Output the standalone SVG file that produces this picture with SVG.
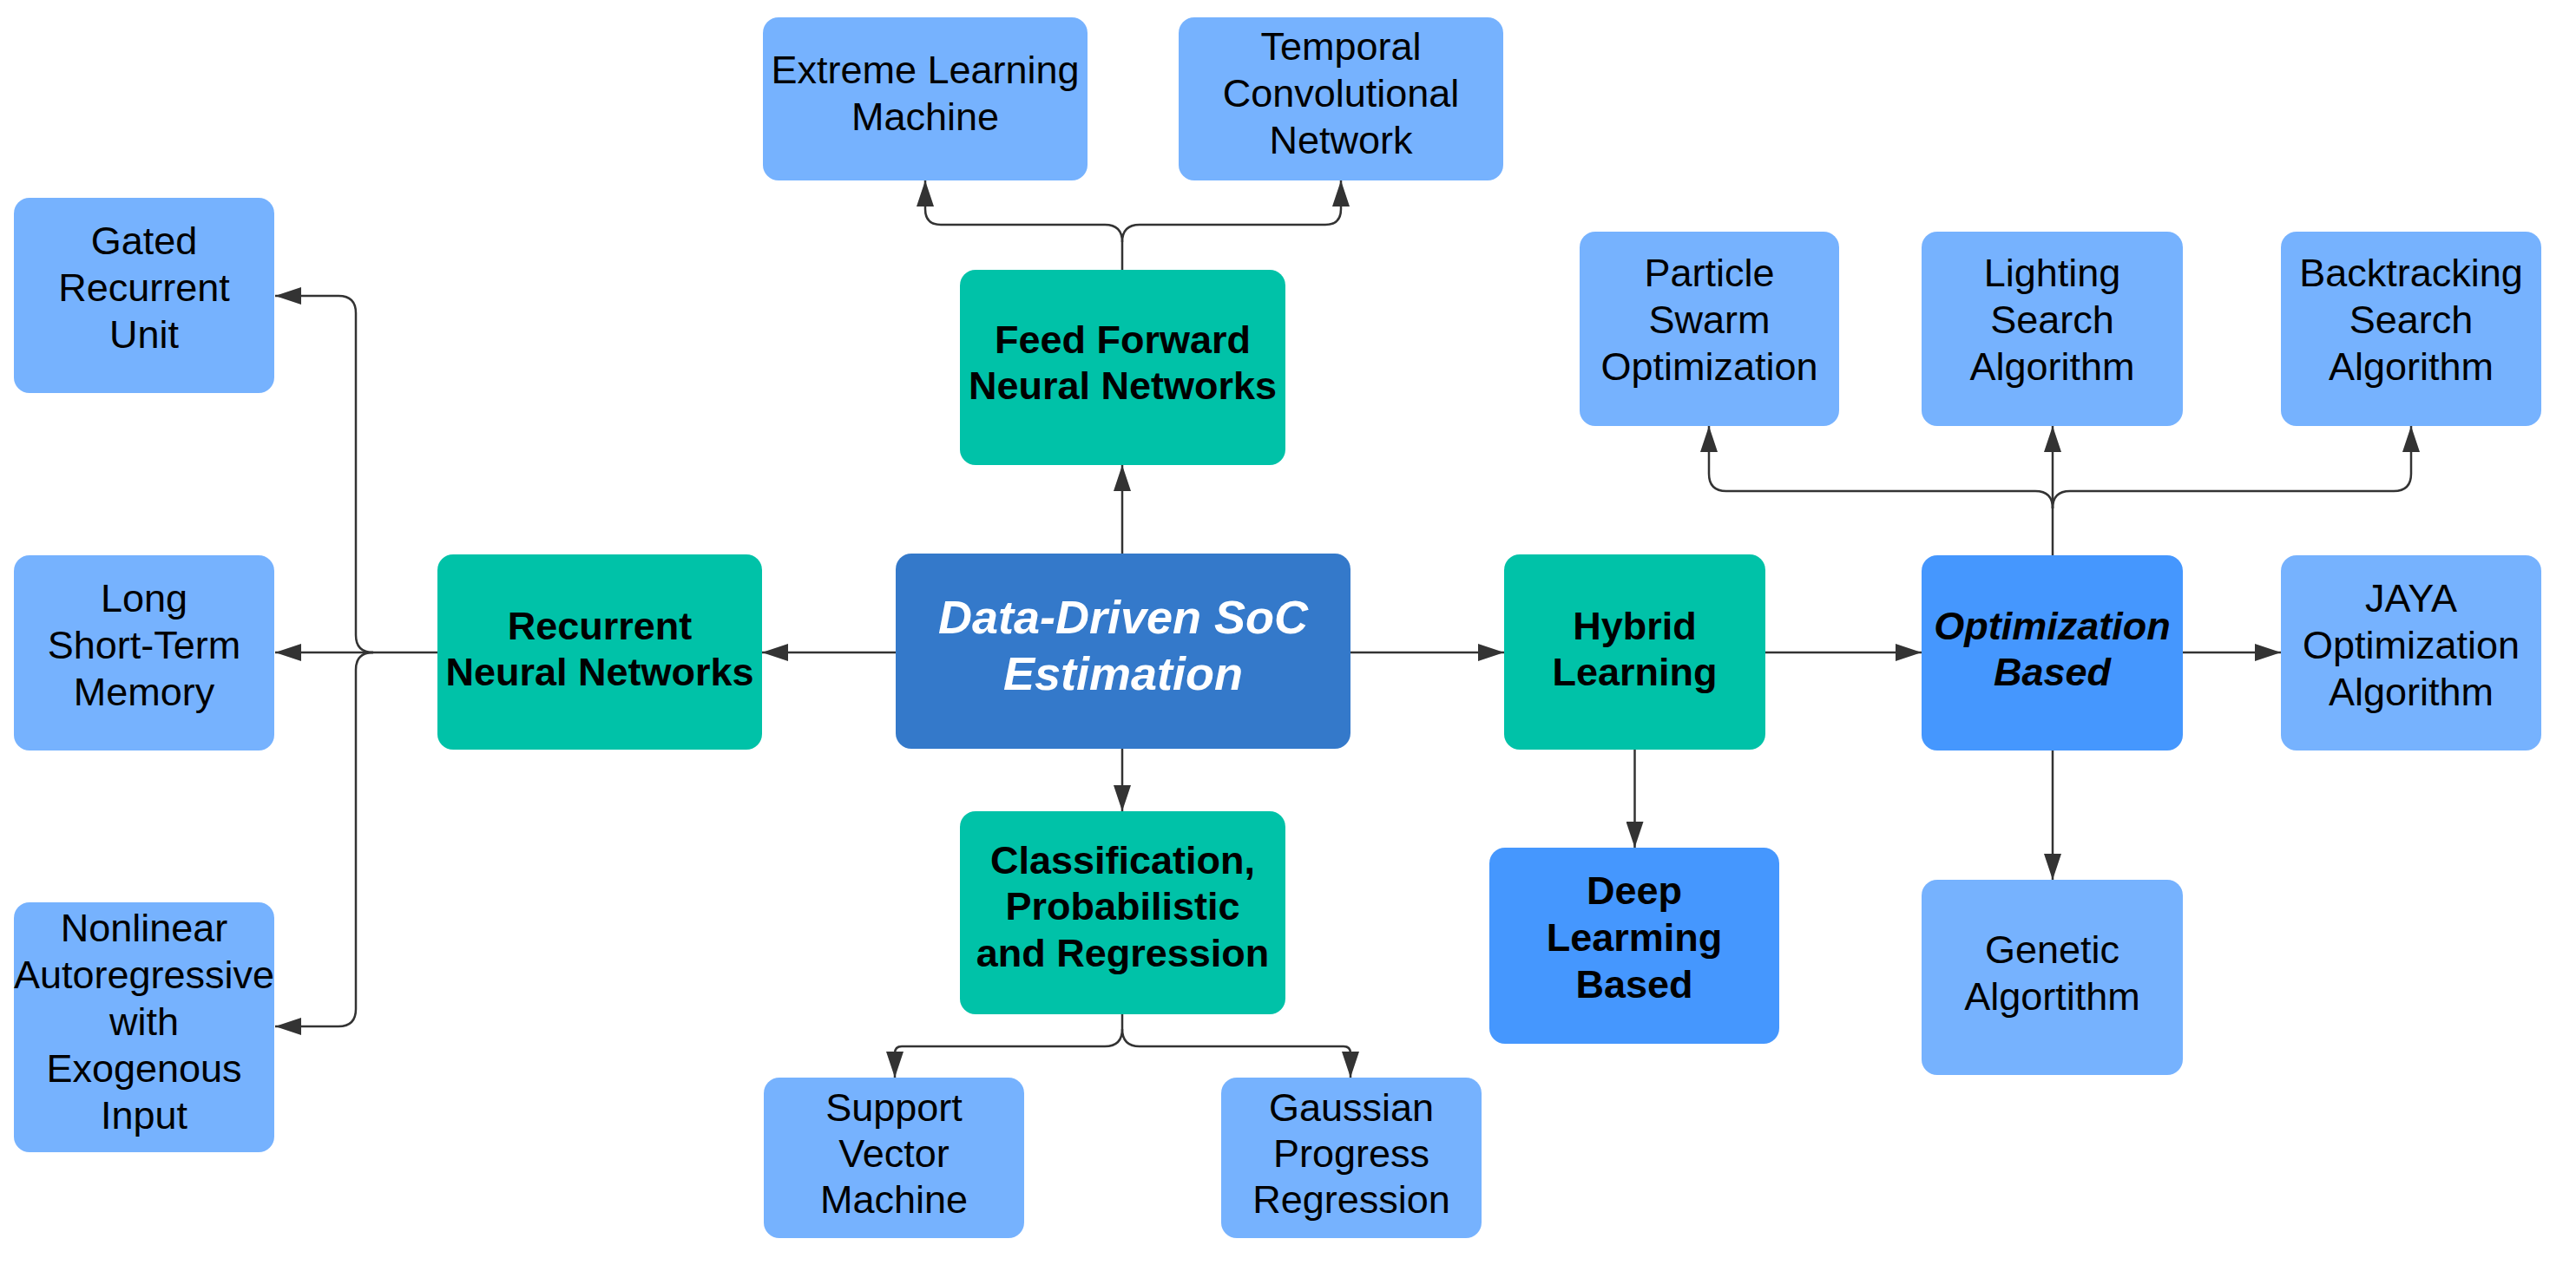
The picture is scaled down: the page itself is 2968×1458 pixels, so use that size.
<svg xmlns="http://www.w3.org/2000/svg" width="2968" height="1458" viewBox="0 0 2968 1458">
<defs>
<marker id="ah" viewBox="0 0 30 20" refX="30" refY="10" markerWidth="30" markerHeight="20" markerUnits="userSpaceOnUse" orient="auto">
<path d="M0,0 L30,10 L0,20 z" fill="#333333"/>
</marker>
</defs>
<style>
.lb{fill:#76B2FE}
.tl{fill:#00C2A8}
.mb{fill:#4597FE}
.db{fill:#3479CA}
text{font-family:"Liberation Sans",Arial,sans-serif;font-size:45px;fill:#000;text-anchor:middle}
.b{font-weight:bold}
.bi{font-weight:bold;font-style:italic}
.main{font-weight:bold;font-style:italic;font-size:54px;fill:#fff}
.c{fill:none;stroke:#333333;stroke-width:2.5}
.a{marker-end:url(#ah)}
</style>
<rect width="2968" height="1458" fill="#fff"/>
<g id="connectors">
<path class="c a" d="M1032,752 H878"/>
<path class="c a" d="M504,752 H317"/>
<path class="c a" d="M430,752 Q410,752 410,732 V361 Q410,341 390,341 H317"/>
<path class="c a" d="M430,752 Q410,752 410,772 V1163 Q410,1183 390,1183 H317"/>
<path class="c a" d="M1293,638 V536"/>
<path class="c a" d="M1293,311 V279 Q1293,259 1273,259 H1084 Q1066,259 1066,241 V208"/>
<path class="c a" d="M1293,279 Q1293,259 1313,259 H1527 Q1545,259 1545,241 V208"/>
<path class="c a" d="M1293,863 V935"/>
<path class="c a" d="M1293,1169 V1186 Q1293,1206 1273,1206 H1039 Q1031,1206 1031,1214 V1242"/>
<path class="c a" d="M1293,1186 Q1293,1206 1313,1206 H1548 Q1556,1206 1556,1214 V1242"/>
<path class="c a" d="M1556,752 H1733"/>
<path class="c a" d="M1883.5,864 V977"/>
<path class="c a" d="M2034,752 H2214"/>
<path class="c a" d="M2515,752 H2628"/>
<path class="c a" d="M2365,640 V491"/>
<path class="c a" d="M2365,586 Q2365,566 2345,566 H1989 Q1969,566 1969,546 V491"/>
<path class="c a" d="M2365,586 Q2365,566 2385,566 H2758 Q2778,566 2778,546 V491"/>
<path class="c a" d="M2365,865 V1014"/>
</g>
<g id="elm"><rect class="lb" x="879" y="20" width="374" height="188" rx="18"/><text x="1066" y="96">Extreme Learning</text><text x="1066" y="150">Machine</text></g>
<g id="tcn"><rect class="lb" x="1358" y="20" width="374" height="188" rx="18"/><text x="1545" y="69">Temporal</text><text x="1545" y="123">Convolutional</text><text x="1545" y="177">Network</text></g>
<g id="gru"><rect class="lb" x="16" y="228" width="300" height="225" rx="18"/><text x="166" y="293">Gated</text><text x="166" y="347">Recurrent</text><text x="166" y="401">Unit</text></g>
<g id="lstm"><rect class="lb" x="16" y="640" width="300" height="225" rx="18"/><text x="166" y="705">Long</text><text x="166" y="759">Short-Term</text><text x="166" y="813">Memory</text></g>
<g id="narx"><rect class="lb" x="16" y="1040" width="300" height="288" rx="18"/><text x="166" y="1085">Nonlinear</text><text x="166" y="1139">Autoregressive</text><text x="166" y="1193">with</text><text x="166" y="1247">Exogenous</text><text x="166" y="1301">Input</text></g>
<g id="rnn"><rect class="tl" x="504" y="639" width="374" height="225" rx="18"/><text class="b" x="691" y="737">Recurrent</text><text class="b" x="691" y="790">Neural Networks</text></g>
<g id="ffnn"><rect class="tl" x="1106" y="311" width="375" height="225" rx="18"/><text class="b" x="1293.5" y="407">Feed Forward</text><text class="b" x="1293.5" y="460">Neural Networks</text></g>
<g id="dd"><rect class="db" x="1032" y="638" width="524" height="225" rx="18"/><text class="main" x="1294" y="730">Data-Driven SoC</text><text class="main" x="1294" y="795">Estimation</text></g>
<g id="cpr"><rect class="tl" x="1106" y="935" width="375" height="234" rx="18"/><text class="b" x="1293.5" y="1007">Classification,</text><text class="b" x="1293.5" y="1060">Probabilistic</text><text class="b" x="1293.5" y="1114">and Regression</text></g>
<g id="svm"><rect class="lb" x="880" y="1242" width="300" height="185" rx="18"/><text x="1030" y="1292">Support</text><text x="1030" y="1345">Vector</text><text x="1030" y="1398">Machine</text></g>
<g id="gpr"><rect class="lb" x="1407" y="1242" width="300" height="185" rx="18"/><text x="1557" y="1292">Gaussian</text><text x="1557" y="1345">Progress</text><text x="1557" y="1398">Regression</text></g>
<g id="hybrid"><rect class="tl" x="1733" y="639" width="301" height="225" rx="18"/><text class="b" x="1883.5" y="737">Hybrid</text><text class="b" x="1883.5" y="790">Learning</text></g>
<g id="deep"><rect class="mb" x="1716" y="977" width="334" height="226" rx="18"/><text class="b" x="1883" y="1042">Deep</text><text class="b" x="1883" y="1096">Learming</text><text class="b" x="1883" y="1150">Based</text></g>
<g id="opt"><rect class="mb" x="2214" y="640" width="301" height="225" rx="18"/><text class="bi" x="2364.5" y="737">Optimization</text><text class="bi" x="2364.5" y="790">Based</text></g>
<g id="jaya"><rect class="lb" x="2628" y="640" width="300" height="225" rx="18"/><text x="2778" y="705">JAYA</text><text x="2778" y="759">Optimization</text><text x="2778" y="813">Algorithm</text></g>
<g id="pso"><rect class="lb" x="1820" y="267" width="299" height="224" rx="18"/><text x="1969.5" y="330">Particle</text><text x="1969.5" y="384">Swarm</text><text x="1969.5" y="438">Optimization</text></g>
<g id="lsa"><rect class="lb" x="2214" y="267" width="301" height="224" rx="18"/><text x="2364.5" y="330">Lighting</text><text x="2364.5" y="384">Search</text><text x="2364.5" y="438">Algorithm</text></g>
<g id="bsa"><rect class="lb" x="2628" y="267" width="300" height="224" rx="18"/><text x="2778" y="330">Backtracking</text><text x="2778" y="384">Search</text><text x="2778" y="438">Algorithm</text></g>
<g id="ga"><rect class="lb" x="2214" y="1014" width="301" height="225" rx="18"/><text x="2364.5" y="1110">Genetic</text><text x="2364.5" y="1164">Algortithm</text></g>
</svg>
